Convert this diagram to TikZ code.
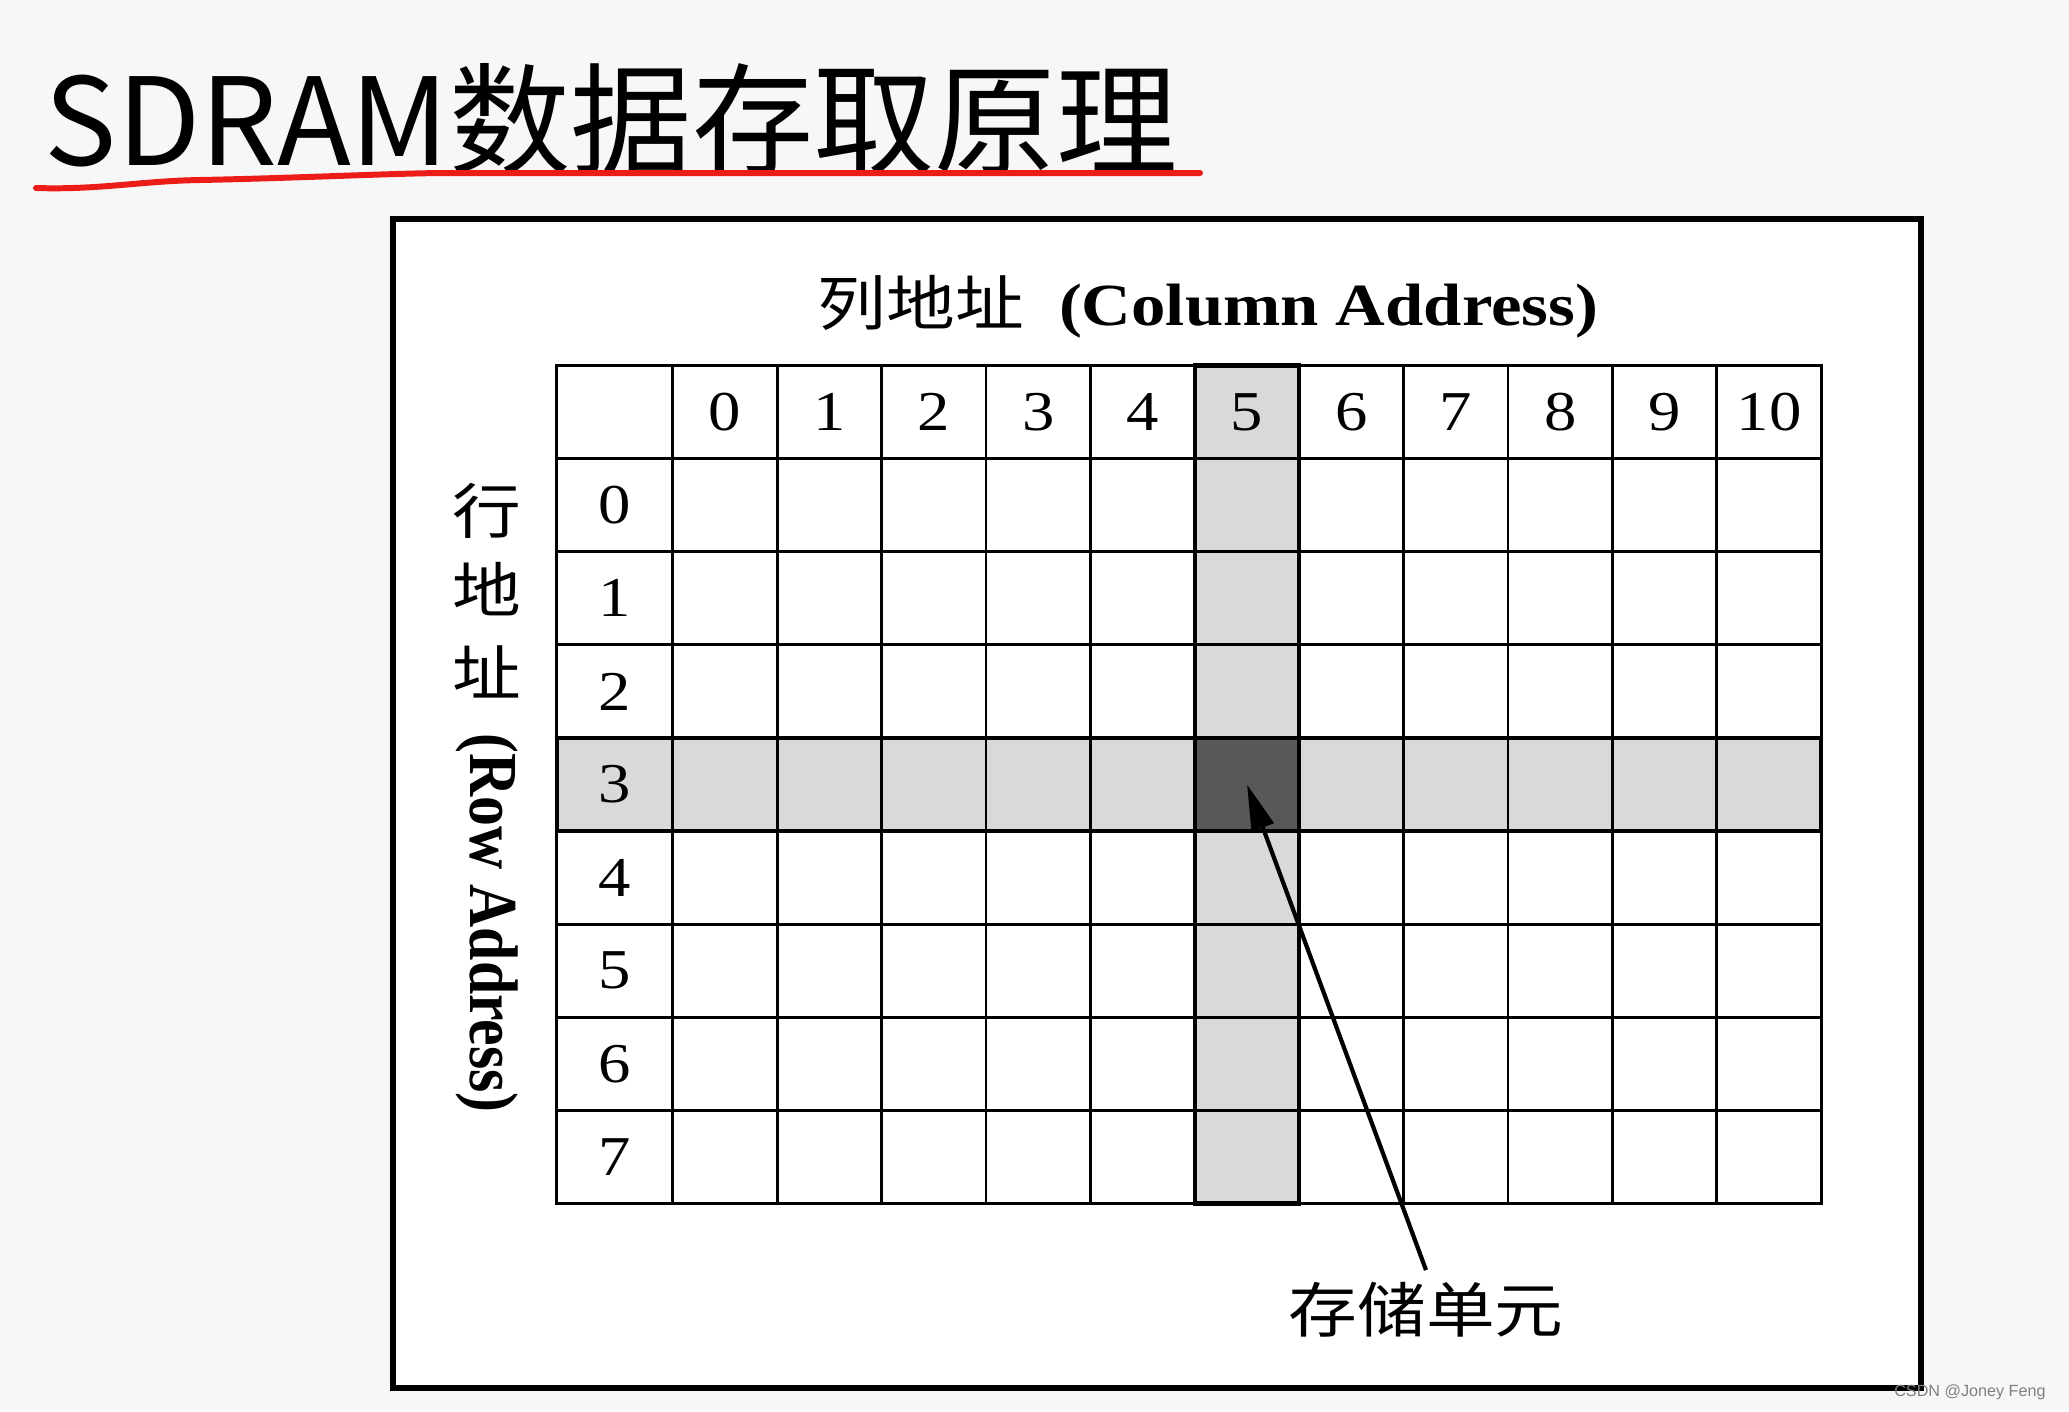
\documentclass[tikz,border=0pt]{standalone}
\usepackage{fontspec}
\setmainfont{Liberation Serif}[FakeStretch=1.15]
\newfontfamily\cjk{Noto Sans CJK SC}[FakeStretch=1.15]
\newfontfamily\titlefont{Noto Sans CJK SC}
\newfontfamily\rowfont{Liberation Serif}
\newfontfamily\wmfont{Liberation Sans}
\usetikzlibrary{arrows.meta}
\definecolor{pagebg}{RGB}{247,247,247}
\definecolor{penred}{RGB}{236,28,24}
\definecolor{lite}{RGB}{217,217,217}
\definecolor{dark}{RGB}{88,88,88}
\tikzset{
  cell/.style={draw,line width=0.8pt,outer sep=0pt,inner sep=0pt,minimum width=1.044cm,minimum height=0.931cm,font=\fontsize{16}{16}\selectfont},
  headcell/.style={cell,minimum width=1.16cm},
  shadecell/.code 2 args={\ifnum#1=3 \tikzset{fill=lite}\fi\ifnum#2=5 \tikzset{fill=lite}\fi\ifnum#1=3 \ifnum#2=5 \tikzset{fill=dark}\fi\fi},
  hl/.style={line width=1.2pt},
  cjklabel/.style={font=\cjk\fontsize{17}{17}\selectfont},
  pointer/.style={line width=1.2pt,-{Triangle[length=13pt,width=6.5pt]}}
}
\begin{document}
\begin{tikzpicture}[x=0.01cm,y=-0.01cm]
  \useasboundingbox[fill=pagebg] (0,0) rectangle (2069,1411);
  \node[anchor=base west,inner sep=0pt,font=\titlefont\fontsize{34.5}{35}\selectfont] (title) at (44,165) {SDRAM数据存取原理};
  \draw[penred,line width=1.7pt,line cap=round] (36,188) .. controls (100,190) and (140,181) .. (200,180) .. controls (300,178) and (400,173) .. (447,173) -- (1200,173);
  \filldraw[fill=white,line width=1.9pt] (393,219) rectangle (1921,1388);
  \node[font=\fontsize{17}{17}\selectfont] (colttl) at (1208,307) {{\cjk 列地址}\hspace{0.35cm}\textbf{(Column Address)}};
  \node[cjklabel] (rowa) at (487,511) {行};
  \node[cjklabel] (rowb) at (487,589) {地};
  \node[cjklabel] (rowc) at (487,672) {址};
  \node[rotate=-90,anchor=west,inner sep=0pt,font=\rowfont\bfseries\fontsize{17}{17}\selectfont] (rowttl) at (487,733) {\scalebox{1}[1.15]{(Row Address)}};
  \node[headcell] (corner) at (614.8,412) {};
  \foreach \j in {0,...,10}
    \node[cell,shadecell={-1}{\j}] (hc\j) at ({725+104.4*\j},412) {\j};
  \foreach \i in {0,...,7} {
    \node[headcell,shadecell={\i}{-1}] (hr\i) at (614.8,{505.2+93.1*\i}) {\i};
    \foreach \j in {0,...,10}
      \node[cell,shadecell={\i}{\j}] (r\i-\j) at ({725+104.4*\j},{505.2+93.1*\i}) {};
  }
  \draw[hl] (hc5.north west) rectangle (r7-5.south east);
  \draw[hl] (hr3.north west) rectangle (r3-10.south east);
  \node[cjklabel] (unit) at (1426,1310) {存储单元};
  \draw[pointer] (unit.north) -- (r3-5.center);
  \node[anchor=east,text=gray,font=\wmfont\fontsize{4.6}{5}\selectfont] (wm) at (2058,1392) {CSDN @Joney Feng};
\end{tikzpicture}
\end{document}
